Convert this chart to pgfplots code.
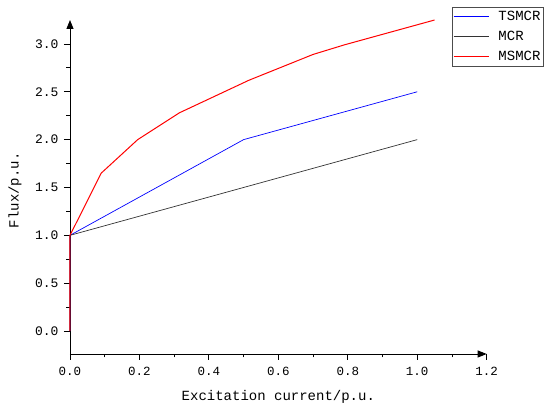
\documentclass[border=0pt]{standalone}
\usepackage{fontspec}
\setmainfont{Liberation Mono}
\usepackage{pgfplots}
\pgfplotsset{compat=1.18}
\usetikzlibrary{arrows.meta}
\begin{document}
\begin{tikzpicture}
\path[use as bounding box] (-70pt,-55pt) rectangle (480pt,354pt);
\begin{axis}[
  at={(0pt,0pt)}, anchor=south west,
  scale only axis, width=416.7pt, height=334pt,
  xmin=0, xmax=1.2, ymin=-0.24, ymax=3.25,
  axis lines=left,
  axis line style={line width=0.9pt, -{Triangle[length=9pt,width=7pt]}},
  xtick={0,0.2,0.4,0.6,0.8,1.0,1.2}, minor x tick num=1,
  ytick={0,0.5,1.0,1.5,2.0,2.5,3.0}, minor y tick num=1,
  tick align=outside, major tick length=6pt, minor tick length=3.5pt,
  tick style={black, line width=0.8pt},
  /pgf/number format/assume math mode=true,
  /pgf/number format/.cd, fixed, fixed zerofill, precision=1, /pgfplots/.cd,
  xticklabel style={font=\fontsize{12.5}{12.5}\selectfont, yshift=-4pt},
  yticklabel style={font=\fontsize{13}{13}\selectfont, xshift=-2pt},
  xlabel={Excitation current/p.u.}, ylabel={Flux/p.u.},
  label style={font=\fontsize{14}{14}\selectfont},
  xlabel style={at={(axis description cs:0.5,-0.1287)}, anchor=center},
  ylabel style={at={(axis description cs:-0.132,0.49)}, anchor=center},
  clip=false,
  legend cell align=left,
  legend style={at={(axis description cs:0.9167,1.039)}, anchor=north west,
    draw=black!70, line width=0.6pt, font=\fontsize{14}{14}\selectfont,
    inner xsep=1pt, inner ysep=1.5pt, row sep=4pt,
    nodes={inner sep=1.5pt, text height=10pt, text depth=3pt},
    /tikz/every odd column/.append style={column sep=8pt}},
  legend image code/.code={\draw[#1, line width=0.7pt] (0pt,0pt) -- (35pt,0pt);},
]
\addplot[draw=blue, line width=0.7pt] coordinates {(0,0) (0,1) (0.5,2) (1,2.5)};
\addlegendentry{TSMCR}
\addplot[draw=black!80, line width=0.7pt] coordinates {(0,0) (0,1) (1,2)};
\addlegendentry{MCR}
\addplot[draw=red, line width=1pt] coordinates {(0,0) (0,1) (0.09,1.65) (0.195,2.0) (0.315,2.28) (0.515,2.62) (0.70,2.89) (0.79,2.99) (1.05,3.25)};
\addlegendentry{MSMCR}
\end{axis}
\end{tikzpicture}
\end{document}
